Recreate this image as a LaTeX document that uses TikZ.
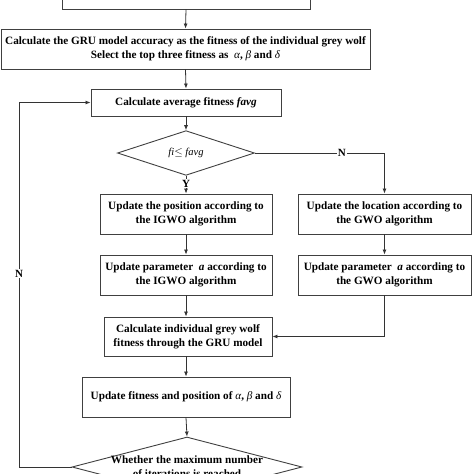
\documentclass[tikz,border=0pt]{standalone}
\usepackage{fontspec}
\setmainfont{Liberation Serif}
\usetikzlibrary{arrows.meta,shapes.geometric}

\newcommand{\grk}[1]{{\mdseries\itshape #1}}

\tikzset{
  stepbox/.style={draw=black!75, line width=0.9pt, align=center, inner sep=0pt,
    font=\bfseries\fontsize{11.2}{14}\selectfont},
  decision/.style={diamond, draw=black!75, line width=0.9pt, align=center, inner sep=0pt,
    font=\bfseries\fontsize{11.2}{14}\selectfont},
  flow/.style={draw=black!80, line width=0.8pt, -{Latex[length=5pt,width=4pt]}},
  yn/.style={fill=white, inner sep=1pt, font=\bfseries\fontsize{11}{12}\selectfont}
}

\begin{document}
\begin{tikzpicture}[x=1pt, y=-1pt]
  \useasboundingbox (0,0) rectangle (474,474);

  % boxes
  \node[stepbox, minimum width=248pt, minimum height=38pt] (init) at (186,-10) {};
  \node[stepbox, minimum width=369pt, minimum height=40pt] (accuracy) at (185.5,49)
    {Calculate the GRU model accuracy as the fitness of the individual grey wolf\\
     Select the top three fitness as\ \ \grk{α}, \grk{β} and \grk{δ}};
  \node[stepbox, minimum width=190pt, minimum height=27pt] (average) at (186,102.5)
    {Calculate average fitness \textit{favg}};
  \node[decision, minimum width=137pt, minimum height=39pt,
    font=\itshape\fontsize{10.5}{12}\selectfont] (compare) at (186,153)
    {fi$\leq$ favg};
  \node[stepbox, minimum width=172pt, minimum height=40pt] (igwopos) at (186,214)
    {Update the position according to\\ the IGWO algorithm};
  \node[stepbox, minimum width=173pt, minimum height=40pt] (gwoloc) at (384.5,214)
    {Update the location according to\\ the GWO algorithm};
  \node[stepbox, minimum width=172pt, minimum height=40pt] (igwopar) at (186,275)
    {Update parameter\ \ \textit{a} according to\\ the IGWO algorithm};
  \node[stepbox, minimum width=173pt, minimum height=40pt] (gwopar) at (384.5,275)
    {Update parameter\ \ \textit{a} according to\\ the GWO algorithm};
  \node[stepbox, minimum width=168pt, minimum height=39pt] (wolffit) at (188,336.5)
    {Calculate individual grey wolf\\ fitness through the GRU model};
  \node[stepbox, minimum width=208pt, minimum height=40pt] (leaders) at (186,397)
    {Update fitness and position of \grk{α}, \grk{β} and \grk{δ}};
  \node[decision, minimum width=230pt, minimum height=60pt,
    label={[align=center, inner sep=0pt, font=\bfseries\fontsize{11.2}{14}\selectfont]
      center:Whether the maximum number\\ of iterations is reached}] (maxiter) at (187,467) {};
  \coordinate (back) at (19,467);

  % connectors
  \draw[flow] (init.south) -- (accuracy.north);
  \draw[flow] (accuracy.south) -- (average.north);
  \draw[flow] (average.south) -- (compare.north);
  \draw[flow] (compare.south) -- node[yn, pos=0.45] {Y} (igwopos.north);
  \draw[flow] (compare.east) -- node[yn, pos=0.67] {N} (compare.east -| gwoloc.north) -- (gwoloc.north);
  \draw[flow] (igwopos.south) -- (igwopar.north);
  \draw[flow] (gwoloc.south) -- (gwopar.north);
  \draw[flow] (igwopar.south) -- (igwopar.south |- wolffit.north);
  \draw[flow] (gwopar.south) |- (wolffit.east);
  \draw[flow] (wolffit.south -| leaders.north) -- (leaders.north);
  \draw[flow] (leaders.south) -- (maxiter.north);
  \draw[flow] (maxiter.west) -- (back) -- node[yn, pos=0.53] {N} (back |- average.west) -- (average.west);
\end{tikzpicture}
\end{document}
